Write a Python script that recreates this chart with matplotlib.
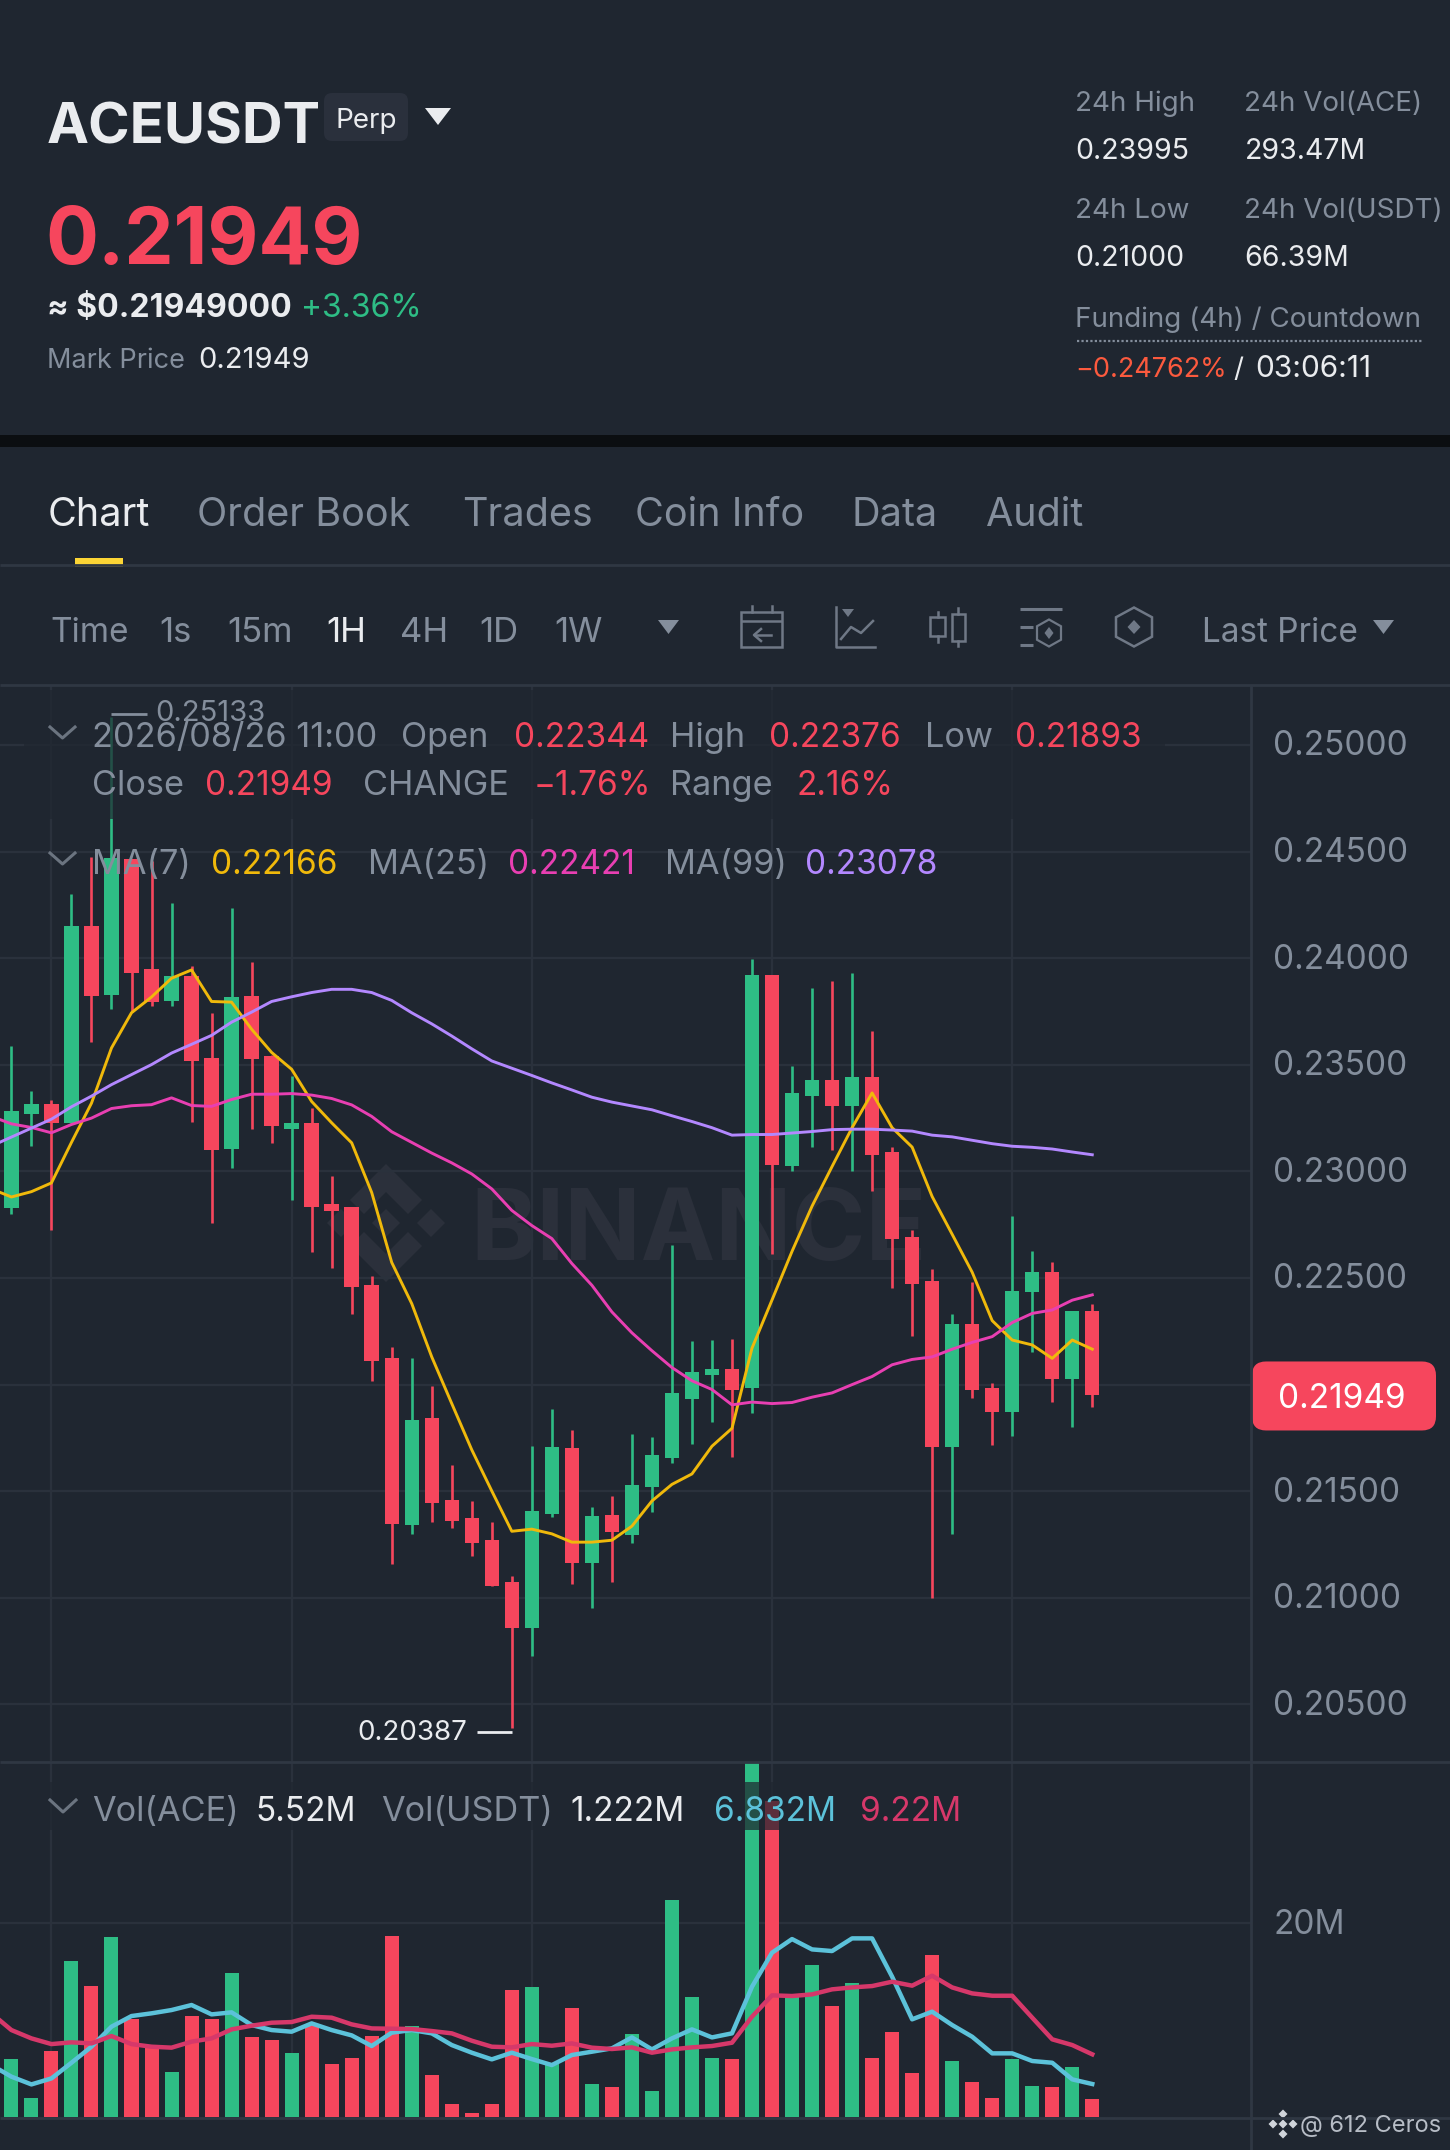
import numpy as np
import matplotlib
matplotlib.use("Agg")
import matplotlib.pyplot as plt
from matplotlib.patches import Polygon, Rectangle, FancyBboxPatch
from matplotlib.transforms import Affine2D

plt.rcParams['font.family'] = ['Inter', 'DejaVu Sans']

# candles, 1H
opens = [0.22826, 0.23270, 0.23317, 0.23228, 0.24149, 0.23826, 0.24463, 0.23948, 0.23797, 0.23918, 0.23532,
         0.23104, 0.23824, 0.23541, 0.23201, 0.23228, 0.22846, 0.22833, 0.22467, 0.22127, 0.21342, 0.21841,
         0.21461, 0.21375, 0.21270, 0.21072, 0.20859, 0.21395, 0.21702, 0.21165, 0.21389, 0.21295, 0.21518,
         0.21654, 0.21932, 0.22045, 0.22073, 0.21982, 0.23921, 0.23027, 0.23355, 0.23427, 0.23309, 0.23443,
         0.23091, 0.22691, 0.22488, 0.21709, 0.22286, 0.21986, 0.21873, 0.22436, 0.22529, 0.22027, 0.22344]
closes = [0.23283, 0.23317, 0.23228, 0.24151, 0.23824, 0.24472, 0.23931, 0.23795, 0.23917, 0.23519, 0.23102,
          0.23818, 0.23529, 0.23211, 0.23228, 0.22833, 0.22816, 0.22456, 0.22112, 0.21345, 0.21836, 0.21445,
          0.21362, 0.21255, 0.21057, 0.20859, 0.21407, 0.21705, 0.21165, 0.21382, 0.21309, 0.21529, 0.21670,
          0.21959, 0.22057, 0.22073, 0.21977, 0.23921, 0.23030, 0.23368, 0.23427, 0.23305, 0.23443, 0.23077,
          0.22682, 0.22470, 0.21709, 0.22286, 0.21977, 0.21873, 0.22441, 0.22527, 0.22027, 0.22344, 0.21949]
highs = [0.23590, 0.23379, 0.23333, 0.24303, 0.24476, 0.25133, 0.24467, 0.24456, 0.24259, 0.23962, 0.23744,
         0.24236, 0.23982, 0.23546, 0.23449, 0.23298, 0.22977, 0.22833, 0.22510, 0.22177, 0.22127, 0.21994,
         0.21623, 0.21452, 0.21354, 0.21104, 0.21714, 0.21884, 0.21788, 0.21427, 0.21477, 0.21766, 0.21755,
         0.22657, 0.22205, 0.22209, 0.22216, 0.23995, 0.23923, 0.23495, 0.23859, 0.23893, 0.23932, 0.23659,
         0.23114, 0.22723, 0.22541, 0.22332, 0.22481, 0.22007, 0.22791, 0.22627, 0.22575, 0.22344, 0.22376]
lows = [0.22802, 0.23121, 0.22725, 0.23228, 0.23608, 0.23764, 0.23748, 0.23777, 0.23774, 0.23232, 0.22759,
        0.23018, 0.23198, 0.23134, 0.22868, 0.22623, 0.22548, 0.22330, 0.22015, 0.21158, 0.21297, 0.21354,
        0.21328, 0.21198, 0.21057, 0.20387, 0.20726, 0.21379, 0.21063, 0.20954, 0.21074, 0.21259, 0.21404,
        0.21632, 0.21720, 0.21823, 0.21659, 0.21868, 0.22614, 0.23004, 0.23114, 0.23100, 0.23004, 0.22909,
        0.22455, 0.22227, 0.21000, 0.21300, 0.21936, 0.21718, 0.21757, 0.22155, 0.21920, 0.21800, 0.21893]

# moving averages, first value belongs to the candle just off the left edge
ma7 = [0.22918, 0.22880, 0.22905, 0.22946, 0.23136, 0.23320, 0.23579, 0.23744, 0.23818, 0.23906, 0.23945, 0.23797,
       0.23794, 0.23667, 0.23558, 0.23479, 0.23328, 0.23228, 0.23134, 0.22901, 0.22573, 0.22380, 0.22130, 0.21911,
       0.21694, 0.21501, 0.21312, 0.21322, 0.21300, 0.21261, 0.21261, 0.21270, 0.21336, 0.21454, 0.21532, 0.21581,
       0.21711, 0.21795, 0.22171, 0.22397, 0.22625, 0.22837, 0.23023, 0.23205, 0.23368, 0.23205, 0.23114, 0.22882,
       0.22705, 0.22527, 0.22300, 0.22209, 0.22186, 0.22123, 0.22209, 0.22166]
ma25 = [0.23258, 0.23223, 0.23206, 0.23181, 0.23220, 0.23250, 0.23295, 0.23308, 0.23313, 0.23345, 0.23309, 0.23305,
        0.23337, 0.23362, 0.23362, 0.23365, 0.23358, 0.23342, 0.23312, 0.23258, 0.23186, 0.23136, 0.23086, 0.23040,
        0.22988, 0.22918, 0.22817, 0.22746, 0.22685, 0.22568, 0.22466, 0.22341, 0.22243, 0.22159, 0.22080, 0.22018,
        0.21977, 0.21905, 0.21918, 0.21911, 0.21916, 0.21941, 0.21961, 0.22000, 0.22038, 0.22093, 0.22118, 0.22130,
        0.22166, 0.22198, 0.22225, 0.22291, 0.22334, 0.22350, 0.22396, 0.22421]
ma99 = [0.23119, 0.23161, 0.23203, 0.23245, 0.23303, 0.23353, 0.23407, 0.23454, 0.23501, 0.23555, 0.23596, 0.23638,
        0.23700, 0.23747, 0.23797, 0.23819, 0.23839, 0.23854, 0.23854, 0.23839, 0.23802, 0.23744, 0.23692, 0.23635,
        0.23575, 0.23518, 0.23484, 0.23450, 0.23415, 0.23382, 0.23348, 0.23325, 0.23307, 0.23289, 0.23261, 0.23234,
        0.23205, 0.23170, 0.23173, 0.23173, 0.23180, 0.23187, 0.23196, 0.23198, 0.23198, 0.23194, 0.23189, 0.23170,
        0.23162, 0.23146, 0.23130, 0.23118, 0.23113, 0.23105, 0.23091, 0.23078]

# volume in millions
volume = [5.96, 1.90, 6.83, 16.06, 13.51, 18.55, 10.07, 7.07, 4.65, 10.44, 10.13, 14.82, 8.24, 7.89, 6.62, 9.48, 5.41,
          6.03, 8.34, 18.68, 9.41, 4.31, 1.28, 0.34, 1.34, 13.06, 13.37, 5.52, 11.20, 3.34, 3.07, 8.51, 2.65, 22.41,
          12.37, 6.07, 5.96, 38.00, 32.60, 12.41, 15.68, 11.48, 13.79, 6.03, 8.72, 4.55, 16.68, 5.72, 3.55, 1.96,
          5.93, 3.17, 3.07, 5.14, 1.86]
vol_ma_blue = [5.34, 4.14, 3.34, 3.96, 5.58, 7.24, 9.31, 10.41, 10.69, 11.03, 11.55, 10.58, 10.79, 9.48, 8.96, 8.79,
               9.65, 8.96, 8.41, 7.31, 8.69, 8.96, 8.62, 7.41, 6.62, 5.93, 6.62, 5.96, 5.34, 6.38, 6.72, 7.07, 8.20,
               6.96, 8.10, 9.03, 8.20, 8.62, 13.44, 16.96, 18.37, 17.30, 17.13, 18.44, 18.44, 14.48, 10.07, 10.86,
               9.48, 8.27, 6.55, 6.55, 5.76, 5.58, 3.86, 3.38]
vol_ma_red = [10.69, 8.96, 8.10, 7.51, 7.69, 7.58, 8.34, 7.51, 7.24, 7.14, 7.76, 8.10, 9.03, 9.41, 9.72, 9.79, 10.34,
              10.24, 9.55, 9.13, 9.10, 9.07, 8.86, 8.62, 7.86, 7.24, 7.17, 7.51, 7.34, 7.58, 7.14, 7.00, 7.17, 6.62,
              6.96, 7.17, 7.31, 7.65, 10.34, 12.55, 12.48, 12.65, 13.17, 13.37, 13.51, 13.96, 13.55, 14.58, 13.37,
              12.75, 12.51, 12.51, 10.24, 8.00, 7.41, 6.45]

price_ticks = [0.205, 0.21, 0.215, 0.22, 0.225, 0.23, 0.235, 0.24, 0.245, 0.25]
time_grid = [2, 14, 26, 38, 50]

BG = '#1f2630'
GRID = '#2a313c'
LINE = '#2f3743'
GREEN = '#2ebd85'
RED = '#f6465d'
GREY = '#848e9c'
WHITE = '#eaecef'
ICON = '#6f7886'
W, H = 1450, 2150
XLIM = (-0.57, 61.93)

fig = plt.figure(figsize=(14.5, 21.5), dpi=100, facecolor=BG)


def px_axes(x0, y0, x1, y1, **kw):
    return fig.add_axes([x0 / W, 1 - y1 / H, (x1 - x0) / W, (y1 - y0) / H], **kw)


# watermark goes under the candles
back = px_axes(0, 0, W, H, zorder=0)
back.set_xlim(0, W)
back.set_ylim(H, 0)
back.axis('off')
wm = '#2b303b'
back.text(470, 1260, 'BINANCE', color=wm, fontsize=72, fontweight='bold', va='baseline')
for cx, cy, r in [(386, 1223, 14), (341, 1223, 14), (431, 1223, 14)]:
    back.add_patch(Polygon([(cx - r, cy), (cx, cy - r), (cx + r, cy), (cx, cy + r)], color=wm, lw=0))
back.add_patch(Polygon([(386, 1164), (422, 1200), (408, 1214), (386, 1192), (364, 1214), (350, 1200)], color=wm, lw=0))
back.add_patch(Polygon([(386, 1282), (422, 1246), (408, 1232), (386, 1254), (364, 1232), (350, 1246)], color=wm, lw=0))

# price pane
ax = px_axes(0, 686, 1251, 1761, zorder=1)
ax.patch.set_alpha(0)
ax.set_xlim(*XLIM)
ax.set_ylim(0.25 - 1016 / 21320, 0.25 + 59 / 21320)
ax.set_xticks(time_grid)
ax.set_yticks(price_ticks)
# 0.22000 sits behind the last price tag
ax.set_yticklabels(['' if t == 0.22 else '%.5f' % t for t in price_ticks], color=GREY, fontsize=24)
ax.yaxis.tick_right()
ax.tick_params(length=0, pad=16, labelbottom=False)
ax.grid(True, color=GRID, lw=1.6)
ax.set_axisbelow(True)
for s in ax.spines.values():
    s.set_visible(False)
for lab in ax.get_yticklabels():
    lab.set_transform(lab.get_transform() + Affine2D().translate(0, 2))

idx = np.arange(len(opens))
o = np.array(opens)
c = np.array(closes)
colors = [GREEN if c[i] >= o[i] else RED for i in idx]
ax.vlines(idx, lows, highs, colors=colors, lw=1.9, zorder=2)
ax.bar(idx, np.abs(c - o), bottom=np.minimum(o, c), width=0.72, color=colors, lw=0, zorder=3)

ma_x = np.arange(-1, len(opens))
ax.plot(ma_x, ma7, color='#f0b90b', lw=2.1, zorder=4)
ax.plot(ma_x, ma25, color='#e83fb2', lw=2.1, zorder=5)
ax.plot(ma_x, ma99, color='#b388ff', lw=2.1, zorder=6)

# volume pane
vx = px_axes(0, 1762, 1251, 2118, zorder=1)
vx.patch.set_alpha(0)
vx.set_xlim(*XLIM)
vx.set_ylim(-0.134, 36.68)
vx.set_xticks(time_grid)
vx.set_yticks([20])
vx.set_yticklabels(['20M'], color=GREY, fontsize=24)
vx.yaxis.tick_right()
vx.tick_params(length=0, pad=16, labelbottom=False)
vx.grid(True, color=GRID, lw=1.6)
vx.set_axisbelow(True)
for s in vx.spines.values():
    s.set_visible(False)
for lab in vx.get_yticklabels():
    lab.set_transform(lab.get_transform() + Affine2D().translate(0, 2))
vx.bar(idx, volume, width=0.7, color=colors, lw=0, zorder=2)
vx.plot(ma_x, vol_ma_blue, color='#5cc2da', lw=3.2, zorder=3)
vx.plot(ma_x, vol_ma_red, color='#d6386a', lw=3.2, zorder=4)

# everything else is placed in picture pixels
ui = px_axes(0, 0, W, H, zorder=3)
ui.patch.set_alpha(0)
ui.set_xlim(0, W)
ui.set_ylim(H, 0)
ui.axis('off')


def tx(x, y, s, color=GREY, size=24, weight='normal', ha='left'):
    # Inter sits about a pixel right of where the x was read
    ui.text(x - 1.5, y, s, color=color, fontsize=size, fontweight=weight, ha=ha, va='baseline')


def to_ui(axes, x, y):
    return ui.transData.inverted().transform(axes.transData.transform((x, y)))


def hline(x0, x1, y, color=LINE, lw=2.0, **kw):
    ui.plot([x0, x1], [y, y], color=color, lw=lw, solid_capstyle='butt', **kw)


def tri(x0, x1, y0, y1, color):
    ui.add_patch(Polygon([(x0, y0), (x1, y0), ((x0 + x1) / 2, y1)], color=color, lw=0))


def chevron(x0, x1, y0, y1):
    ui.plot([x0, (x0 + x1) / 2, x1], [y0, y1, y0], color='#6b7480', lw=2.2)


def hexagon(cx, cy, w, h, lw):
    pts = [(cx, cy - h / 2), (cx + w / 2, cy - h / 4), (cx + w / 2, cy + h / 4),
           (cx, cy + h / 2), (cx - w / 2, cy + h / 4), (cx - w / 2, cy - h / 4)]
    ui.add_patch(Polygon(pts, fill=False, ec=ICON, lw=lw))


def diamond(cx, cy, rx, ry, color=ICON):
    ui.add_patch(Polygon([(cx - rx, cy), (cx, cy - ry), (cx + rx, cy), (cx, cy + ry)], color=color, lw=0))


# header
tx(48, 143, 'ACEUSDT', '#eaecef', 40.5, 'bold')
ui.add_patch(FancyBboxPatch((330, 99), 72, 36, boxstyle='round,pad=6,rounding_size=8', fc='#2a303c', ec='none'))
tx(337, 128, 'Perp', WHITE, 20)
tri(425, 451, 108, 125, '#eaecef')
tx(47, 264, '0.21949', RED, 56.5, 'bold')
tx(49, 317, '≈ $0.21949000', WHITE, 23, 'bold')
tx(303, 317, '+3.36%', GREEN, 23)
tx(49, 368, 'Mark Price', GREY, 19.5)
tx(200, 368, '0.21949', WHITE, 21)

tx(1077, 111, '24h High', GREY, 20)
tx(1246, 111, '24h Vol(ACE)', GREY, 20)
tx(1077, 159, '0.23995', WHITE, 20.5)
tx(1246, 159, '293.47M', WHITE, 20.5)
tx(1077, 218, '24h Low', GREY, 20)
tx(1246, 218, '24h Vol(USDT)', GREY, 20)
tx(1077, 266, '0.21000', WHITE, 20.5)
tx(1246, 266, '66.39M', WHITE, 20.5)
tx(1077, 327, 'Funding (4h) / Countdown', GREY, 20)
ui.plot([1077, 1422], [341, 341], color=GREY, lw=1.6, ls=(0, (1, 1)))
tx(1077, 377, '−0.24762%', '#fc5a3e', 19.5)
tx(1235, 377, '/', WHITE, 20)
tx(1257, 377, '03:06:11', WHITE, 21.5)

# band under the header
ui.add_patch(Rectangle((0, 435), W, 12, color='#0b0e11', lw=0))

# tabs
for x, s, col in [(49, 'Chart', WHITE), (199, 'Order Book', GREY), (464, 'Trades', GREY),
                  (637, 'Coin Info', GREY), (853, 'Data', GREY), (988, 'Audit', GREY)]:
    tx(x, 526, s, col, 28.5)
hline(0, W, 565, lw=2.0)
ui.add_patch(Rectangle((75, 558), 48, 9, color='#fcd535', lw=0))

# toolbar
tx(52, 642, 'Time', GREY, 24)
for x, s, col in [(161, '1s', GREY), (229, '15m', GREY), (328, '1H', WHITE),
                  (402, '4H', GREY), (481, '1D', GREY), (556, '1W', GREY)]:
    tx(x, 642, s, col, 25)
tri(658, 679, 620, 634, GREY)
tx(1204, 642, 'Last Price', GREY, 24)
tri(1373, 1394, 620, 634, GREY)
hline(0, W, 685, lw=2.0)

# calendar icon
ui.add_patch(Rectangle((741, 612), 41, 35, fill=False, ec=ICON, lw=1.8))
hline(741, 782, 621, ICON, 1.8)
ui.plot([752, 752], [606, 612], color=ICON, lw=1.8)
ui.plot([772, 772], [606, 612], color=ICON, lw=1.8)
ui.plot([771, 755], [635, 635], color=ICON, lw=1.8)
ui.plot([761, 754, 761], [629, 635, 641], color=ICON, lw=1.8)
# chart icon
ui.plot([836, 836, 875], [607, 647, 647], color=ICON, lw=1.8)
tri(842, 854, 609, 617, ICON)
ui.plot([841, 851, 861, 873], [639, 627, 633, 621], color=ICON, lw=1.8)
# candle icon
ui.add_patch(Rectangle((930, 617), 15, 19, fill=False, ec=ICON, lw=1.8))
ui.add_patch(Rectangle((952, 614), 13, 27, fill=False, ec=ICON, lw=1.8))
for x, y0, y1, y2, y3 in [(938, 612, 617, 636, 642), (958, 608, 614, 641, 646)]:
    ui.plot([x, x], [y0, y1], color=ICON, lw=1.8)
    ui.plot([x, x], [y2, y3], color=ICON, lw=1.8)
# settings icon
hline(1020, 1062, 609, ICON, 2.2)
hline(1020, 1033, 627, ICON, 2.2)
hline(1020, 1033, 645, ICON, 2.2)
hexagon(1049, 633, 24, 27, 1.6)
diamond(1049, 633, 4.5, 6)
# hex icon
hexagon(1134, 627, 36, 39, 1.8)
diamond(1134, 627, 6.5, 7)

# legend rows sit on a see-through strip over the chart
ui.add_patch(Rectangle((24, 690), 1141, 129, color=BG, alpha=0.72, lw=0))
ui.add_patch(Rectangle((24, 1782), 946, 48, color=BG, alpha=0.72, lw=0))

# high and low markers
hi = int(np.argmax(highs))
lo = int(np.argmin(lows))
hx, hy = to_ui(ax, hi, highs[hi])
lx, ly = to_ui(ax, lo, lows[lo])
hline(hx, hx + 36, hy - 3, '#848e9c', 2.0)
tx(hx + 45, hy + 4, '%.5f' % highs[hi], GREY, 21)
hline(lx - 35, lx, ly + 4, WHITE, 2.0)
tx(lx - 153, ly + 12, '%.5f' % lows[lo], WHITE, 20)

chevron(50, 75, 727, 738)
tx(94, 747, '2026/08/26 11:00', GREY, 24.7)
tx(403, 747, 'Open', GREY, 24.7)
tx(516, 747, '0.22344', RED, 24)
tx(672, 747, 'High', GREY, 24.7)
tx(771, 747, '0.22376', RED, 24)
tx(927, 747, 'Low', GREY, 24.7)
tx(1017, 747, '0.21893', RED, 24)
tx(94, 795, 'Close', GREY, 24.7)
tx(207, 795, '0.21949', RED, 24)
tx(365, 795, 'CHANGE', GREY, 24.7)
tx(535, 795, '−1.76%', RED, 24)
tx(672, 795, 'Range', GREY, 24.7)
tx(798, 795, '2.16%', RED, 24)

chevron(50, 75, 853, 864)
tx(94, 874, 'MA(7)', GREY, 24.7)
tx(213, 874, '0.22166', '#f0b90b', 24)
tx(370, 874, 'MA(25)', GREY, 24.7)
tx(510, 874, '0.22421', '#e83fb2', 24)
tx(667, 874, 'MA(99)', GREY, 24.7)
tx(807, 874, '0.23078', '#b388ff', 24)

chevron(50, 76, 1800, 1812)
tx(94, 1821, 'Vol(ACE)', GREY, 24.7)
tx(257, 1821, '5.52M', WHITE, 24)
tx(383, 1821, 'Vol(USDT)', GREY, 24.7)
tx(572, 1821, '1.222M', WHITE, 24)
tx(716, 1821, '6.832M', '#5cc2da', 24)
tx(862, 1821, '9.22M', '#d6386a', 24)

# pane borders
hline(0, W, 1762, lw=2.0)
hline(0, W, 2118, lw=2.0)
ui.plot([1251, 1251], [686, H], color=LINE, lw=2.0)

# last price tag
_, tag_y = to_ui(ax, 0, closes[-1])
ui.add_patch(FancyBboxPatch((1264, tag_y - 22), 160, 45, boxstyle='round,pad=12,rounding_size=14', fc=RED, ec='none'))
ui.text(1342, tag_y + 13, '%.5f' % closes[-1], color='white', fontsize=24, ha='center', va='baseline')

# credit, bottom right
for dx, dy in [(0, -10), (0, 10), (-10, 0), (10, 0), (0, 0)]:
    diamond(1283 + dx, 2124 + dy, 4.5, 4.5, '#d0d4da')
tx(1302, 2132, '@ 612 Ceros', '#b7bdc6', 17)

fig.savefig('out.png', dpi=100, facecolor=BG)
